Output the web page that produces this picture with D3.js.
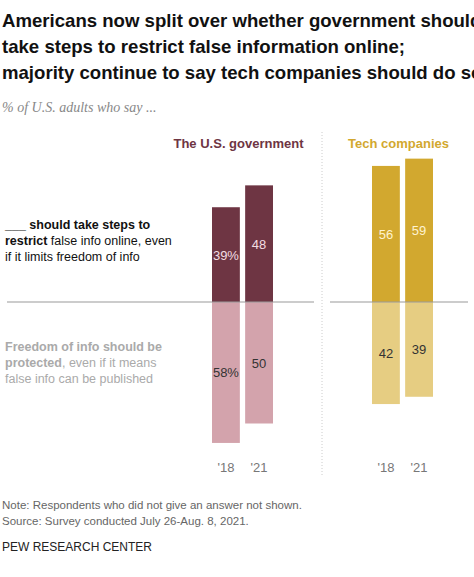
<!DOCTYPE html><html><head><meta charset="utf-8">
<script src="https://d3js.org/d3.v7.min.js"></script>
<style>body{margin:0;background:#fff;font-family:"Franklin Gothic","Liberation Sans",Arial,sans-serif}</style></head><body>
<svg id="c" width="474" height="577"></svg>
<script>
const groups=["The U.S. government","Tech companies"];
const years=["'18","'21"];
const restrict=[[39,48],[56,59]];
const protect=[[58,50],[42,39]];
const topCol=["#6e3543","#d2a82f"], botCol=["#d3a3ac","#e6cd82"];
const titleCol=["#6e3543","#d2a82f"];
const svg=d3.select("#c");
const T=(x,y,t,o={})=>svg.append("text").attr("x",x).attr("y",y).text(t)
 .attr("font-size",o.s||13).attr("fill",o.c||"#222").attr("font-weight",o.w||"normal")
 .attr("font-style",o.i||"normal").attr("text-anchor",o.a||"start").attr("font-family",o.f||null);
["Americans now split over whether government should","take steps to restrict false information online;","majority continue to say tech companies should do so"]
 .forEach((l,i)=>T(2,27+i*26,l,{s:18.6,w:"bold",c:"#111"}));
T(2,112,"% of U.S. adults who say ...",{s:14,i:"italic",c:"#888",f:"Liberation Serif, serif"});
const y=d3.scaleLinear().domain([0,100]).range([0,243]);
const base=302;
const gx=[d3.scaleBand().domain(years).range([212,273]).paddingInner(0.16),
          d3.scaleBand().domain(years).range([372,433]).paddingInner(0.16)];
svg.append("line").attr("x1",322).attr("x2",322).attr("y1",132).attr("y2",476).attr("stroke","#ccc").attr("stroke-dasharray","1,2");
groups.forEach((g,gi)=>{
 const x=gx[gi];
 T((x.range()[0]+x.range()[1])/2-4,148,g,{s:13,w:"bold",c:titleCol[gi],a:"middle"});
 years.forEach((yr,j)=>{
  const r=restrict[gi][j],p=protect[gi][j];
  svg.append("rect").attr("x",x(yr)).attr("width",x.bandwidth()).attr("y",base-y(r)).attr("height",y(r)).attr("fill",topCol[gi]);
  svg.append("rect").attr("x",x(yr)).attr("width",x.bandwidth()).attr("y",base).attr("height",y(p)).attr("fill",botCol[gi]);
  const cx=x(yr)+x.bandwidth()/2;
  const pct=(gi==0&&j==0)?"%":"";
  T(cx,base-y(r)/2+5,r+pct,{s:13,c:gi?"#fff3d0":"#f3dde2",a:"middle"});
  T(cx,base+y(p)/2+5,p+pct,{s:13,c:"#333",a:"middle"});
  T(cx,472,yr,{s:13,c:"#777",a:"middle"});
 });
});
svg.append("line").attr("x1",7).attr("x2",314).attr("y1",base).attr("y2",base).attr("stroke","#999").attr("stroke-width",1.2);
svg.append("line").attr("x1",330).attr("x2",468).attr("y1",base).attr("y2",base).attr("stroke","#999").attr("stroke-width",1.2);
let t=svg.append("text").attr("x",5).attr("y",229).attr("font-size",12.5).attr("fill","#111");
t.append("tspan").attr("font-weight","bold").text("___ should take steps to");
t=svg.append("text").attr("x",5).attr("y",245).attr("font-size",12.5).attr("fill","#111");
t.append("tspan").attr("font-weight","bold").text("restrict");t.append("tspan").text(" false info online, even");
T(5,261,"if it limits freedom of info",{s:12.5,c:"#111"});
t=svg.append("text").attr("x",5).attr("y",351).attr("font-size",12.5).attr("fill","#aaa");
t.append("tspan").attr("font-weight","bold").text("Freedom of info should be");
t=svg.append("text").attr("x",5).attr("y",367).attr("font-size",12.5).attr("fill","#aaa");
t.append("tspan").attr("font-weight","bold").text("protected");t.append("tspan").text(", even if it means");
T(5,383,"false info can be published",{s:12.5,c:"#aaa"});
T(2,509,"Note: Respondents who did not give an answer not shown.",{s:11.5,c:"#666"});
T(2,525,"Source: Survey conducted July 26-Aug. 8, 2021.",{s:11.5,c:"#666"});
T(2,551,"PEW RESEARCH CENTER",{s:12,c:"#222"});
</script></body></html>
